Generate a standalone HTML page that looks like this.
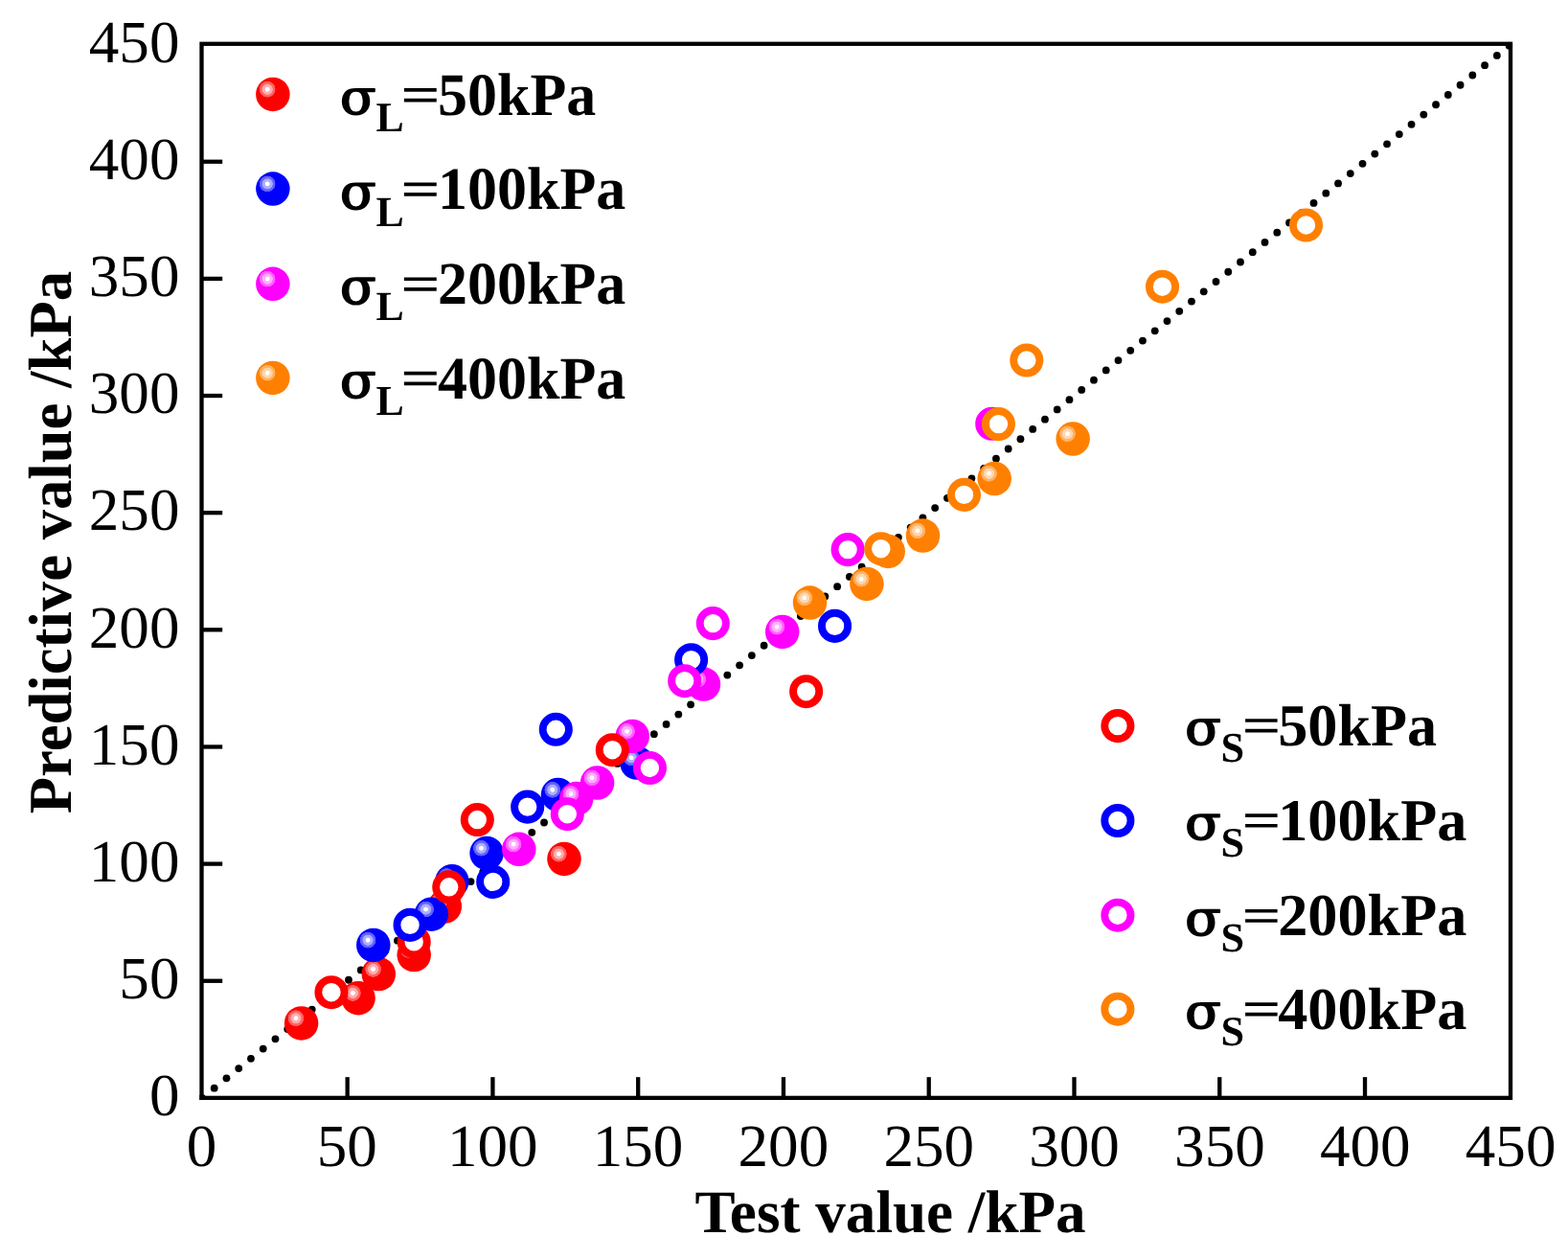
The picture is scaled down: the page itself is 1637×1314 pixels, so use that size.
<!DOCTYPE html>
<html lang="en"><head><meta charset="utf-8"><title>Predictive value vs test value</title>
<style>
html,body{margin:0;padding:0;background:#fff;}
body{width:1637px;height:1314px;}
svg{display:block;}
text{font-family:"Liberation Serif",serif;font-size:62px;fill:#000;text-rendering:geometricPrecision;}
.tick{font-weight:normal;}
.b{font-weight:bold;}
.sub{font-size:42px;font-weight:bold;}
.sig{font-family:"DejaVu Serif","Liberation Serif",serif;font-weight:normal;stroke:#000;stroke-width:2px;stroke-linejoin:round;}
</style></head><body>
<svg width="1637" height="1314" viewBox="0 0 1637 1314" role="img" aria-label="Predictive value versus test value scatter plot">
<defs>
<clipPath id="plot"><rect x="208.35" y="43.62" width="1370.8" height="1104.38"/></clipPath>
<radialGradient id="hl" gradientUnits="userSpaceOnUse" cx="-5.7" cy="-5.2" r="8.5">
<stop offset="0" stop-color="#fff" stop-opacity="1"/><stop offset="0.24" stop-color="#fff" stop-opacity="1"/><stop offset="0.32" stop-color="#fff" stop-opacity="0.7"/><stop offset="0.62" stop-color="#fff" stop-opacity="0.66"/><stop offset="0.68" stop-color="#fff" stop-opacity="0.42"/><stop offset="0.95" stop-color="#fff" stop-opacity="0.36"/><stop offset="1" stop-color="#fff" stop-opacity="0"/>
</radialGradient>
<g id="sr"><circle r="17.75" fill="#ff0000"/><circle r="17.75" fill="url(#hl)"/></g>
<circle id="rr" r="13.62" fill="#fff" stroke="#ff0000" stroke-width="7.85"/>
<g id="sb"><circle r="17.75" fill="#0000ff"/><circle r="17.75" fill="url(#hl)"/></g>
<circle id="rb" r="13.62" fill="#fff" stroke="#0000ff" stroke-width="7.85"/>
<g id="sm"><circle r="17.75" fill="#ff00ff"/><circle r="17.75" fill="url(#hl)"/></g>
<circle id="rm" r="13.62" fill="#fff" stroke="#ff00ff" stroke-width="7.85"/>
<g id="so"><circle r="17.75" fill="#ff8000"/><circle r="17.75" fill="url(#hl)"/></g>
<circle id="ro" r="13.62" fill="#fff" stroke="#ff8000" stroke-width="7.85"/>
</defs>
<rect width="1637" height="1314" fill="#fff"/>
<g fill="#000" clip-path="url(#plot)">
<circle cx="210.94" cy="1145.90" r="3.9"/>
<circle cx="223.69" cy="1135.64" r="3.9"/>
<circle cx="236.45" cy="1125.37" r="3.9"/>
<circle cx="249.20" cy="1115.11" r="3.9"/>
<circle cx="261.95" cy="1104.85" r="3.9"/>
<circle cx="274.71" cy="1094.58" r="3.9"/>
<circle cx="287.46" cy="1084.32" r="3.9"/>
<circle cx="300.22" cy="1074.05" r="3.9"/>
<circle cx="312.97" cy="1063.79" r="3.9"/>
<circle cx="325.72" cy="1053.53" r="3.9"/>
<circle cx="338.48" cy="1043.26" r="3.9"/>
<circle cx="351.23" cy="1033.00" r="3.9"/>
<circle cx="363.98" cy="1022.74" r="3.9"/>
<circle cx="376.74" cy="1012.47" r="3.9"/>
<circle cx="389.49" cy="1002.21" r="3.9"/>
<circle cx="402.25" cy="991.94" r="3.9"/>
<circle cx="415.00" cy="981.68" r="3.9"/>
<circle cx="427.75" cy="971.42" r="3.9"/>
<circle cx="440.51" cy="961.15" r="3.9"/>
<circle cx="453.26" cy="950.89" r="3.9"/>
<circle cx="466.01" cy="940.63" r="3.9"/>
<circle cx="478.77" cy="930.36" r="3.9"/>
<circle cx="491.52" cy="920.10" r="3.9"/>
<circle cx="504.28" cy="909.83" r="3.9"/>
<circle cx="517.03" cy="899.57" r="3.9"/>
<circle cx="529.78" cy="889.31" r="3.9"/>
<circle cx="542.54" cy="879.04" r="3.9"/>
<circle cx="555.29" cy="868.78" r="3.9"/>
<circle cx="568.04" cy="858.52" r="3.9"/>
<circle cx="580.80" cy="848.25" r="3.9"/>
<circle cx="593.55" cy="837.99" r="3.9"/>
<circle cx="606.30" cy="827.73" r="3.9"/>
<circle cx="619.06" cy="817.46" r="3.9"/>
<circle cx="631.81" cy="807.20" r="3.9"/>
<circle cx="644.57" cy="796.93" r="3.9"/>
<circle cx="657.32" cy="786.67" r="3.9"/>
<circle cx="670.07" cy="776.41" r="3.9"/>
<circle cx="682.83" cy="766.14" r="3.9"/>
<circle cx="695.58" cy="755.88" r="3.9"/>
<circle cx="708.33" cy="745.62" r="3.9"/>
<circle cx="721.09" cy="735.35" r="3.9"/>
<circle cx="733.84" cy="725.09" r="3.9"/>
<circle cx="746.60" cy="714.82" r="3.9"/>
<circle cx="759.35" cy="704.56" r="3.9"/>
<circle cx="772.10" cy="694.30" r="3.9"/>
<circle cx="784.86" cy="684.03" r="3.9"/>
<circle cx="797.61" cy="673.77" r="3.9"/>
<circle cx="810.36" cy="663.51" r="3.9"/>
<circle cx="823.12" cy="653.24" r="3.9"/>
<circle cx="835.87" cy="642.98" r="3.9"/>
<circle cx="848.62" cy="632.72" r="3.9"/>
<circle cx="861.38" cy="622.45" r="3.9"/>
<circle cx="874.13" cy="612.19" r="3.9"/>
<circle cx="886.89" cy="601.92" r="3.9"/>
<circle cx="899.64" cy="591.66" r="3.9"/>
<circle cx="912.39" cy="581.40" r="3.9"/>
<circle cx="925.15" cy="571.13" r="3.9"/>
<circle cx="937.90" cy="560.87" r="3.9"/>
<circle cx="950.65" cy="550.61" r="3.9"/>
<circle cx="963.41" cy="540.34" r="3.9"/>
<circle cx="976.16" cy="530.08" r="3.9"/>
<circle cx="988.92" cy="519.81" r="3.9"/>
<circle cx="1001.67" cy="509.55" r="3.9"/>
<circle cx="1014.42" cy="499.29" r="3.9"/>
<circle cx="1027.18" cy="489.02" r="3.9"/>
<circle cx="1039.93" cy="478.76" r="3.9"/>
<circle cx="1052.68" cy="468.50" r="3.9"/>
<circle cx="1065.44" cy="458.23" r="3.9"/>
<circle cx="1078.19" cy="447.97" r="3.9"/>
<circle cx="1090.95" cy="437.70" r="3.9"/>
<circle cx="1103.70" cy="427.44" r="3.9"/>
<circle cx="1116.45" cy="417.18" r="3.9"/>
<circle cx="1129.21" cy="406.91" r="3.9"/>
<circle cx="1141.96" cy="396.65" r="3.9"/>
<circle cx="1154.71" cy="386.39" r="3.9"/>
<circle cx="1167.47" cy="376.12" r="3.9"/>
<circle cx="1180.22" cy="365.86" r="3.9"/>
<circle cx="1192.97" cy="355.60" r="3.9"/>
<circle cx="1205.73" cy="345.33" r="3.9"/>
<circle cx="1218.48" cy="335.07" r="3.9"/>
<circle cx="1231.24" cy="324.80" r="3.9"/>
<circle cx="1243.99" cy="314.54" r="3.9"/>
<circle cx="1256.74" cy="304.28" r="3.9"/>
<circle cx="1269.50" cy="294.01" r="3.9"/>
<circle cx="1282.25" cy="283.75" r="3.9"/>
<circle cx="1295.00" cy="273.49" r="3.9"/>
<circle cx="1307.76" cy="263.22" r="3.9"/>
<circle cx="1320.51" cy="252.96" r="3.9"/>
<circle cx="1333.27" cy="242.69" r="3.9"/>
<circle cx="1346.02" cy="232.43" r="3.9"/>
<circle cx="1358.77" cy="222.17" r="3.9"/>
<circle cx="1371.53" cy="211.90" r="3.9"/>
<circle cx="1384.28" cy="201.64" r="3.9"/>
<circle cx="1397.03" cy="191.38" r="3.9"/>
<circle cx="1409.79" cy="181.11" r="3.9"/>
<circle cx="1422.54" cy="170.85" r="3.9"/>
<circle cx="1435.30" cy="160.58" r="3.9"/>
<circle cx="1448.05" cy="150.32" r="3.9"/>
<circle cx="1460.80" cy="140.06" r="3.9"/>
<circle cx="1473.56" cy="129.79" r="3.9"/>
<circle cx="1486.31" cy="119.53" r="3.9"/>
<circle cx="1499.06" cy="109.27" r="3.9"/>
<circle cx="1511.82" cy="99.00" r="3.9"/>
<circle cx="1524.57" cy="88.74" r="3.9"/>
<circle cx="1537.32" cy="78.48" r="3.9"/>
<circle cx="1550.08" cy="68.21" r="3.9"/>
<circle cx="1562.83" cy="57.95" r="3.9"/>
<circle cx="1575.59" cy="47.68" r="3.9"/>
</g>
<use href="#sr" x="314.60" y="1067.90"/>
<use href="#sr" x="374.05" y="1041.65"/>
<use href="#sr" x="395.30" y="1016.60"/>
<use href="#sr" x="432.20" y="996.60"/>
<use href="#sr" x="464.35" y="946.00"/>
<use href="#sr" x="589.00" y="896.40"/>
<use href="#sb" x="389.80" y="986.40"/>
<use href="#sb" x="450.30" y="954.20"/>
<use href="#sb" x="471.90" y="919.70"/>
<use href="#sb" x="508.10" y="890.40"/>
<use href="#sb" x="582.50" y="829.50"/>
<use href="#sb" x="664.90" y="796.10"/>
<use href="#sm" x="541.80" y="886.30"/>
<use href="#sm" x="601.70" y="833.60"/>
<use href="#sm" x="623.60" y="817.00"/>
<use href="#sm" x="660.20" y="768.40"/>
<use href="#sm" x="734.50" y="714.10"/>
<use href="#sm" x="816.70" y="659.40"/>
<use href="#so" x="845.50" y="629.10"/>
<use href="#so" x="904.90" y="609.40"/>
<use href="#so" x="927.20" y="575.40"/>
<use href="#so" x="963.50" y="559.10"/>
<use href="#so" x="1038.20" y="499.50"/>
<use href="#so" x="1120.15" y="458.00"/>
<use href="#rr" x="345.95" y="1035.70"/>
<use href="#rr" x="432.20" y="982.90"/>
<use href="#rr" x="468.75" y="925.80"/>
<use href="#rr" x="498.30" y="855.55"/>
<use href="#rr" x="639.30" y="782.70"/>
<use href="#rr" x="841.65" y="721.70"/>
<use href="#rb" x="428.05" y="965.40"/>
<use href="#rb" x="514.70" y="920.40"/>
<use href="#rb" x="550.70" y="842.10"/>
<use href="#rb" x="580.30" y="761.30"/>
<use href="#rb" x="721.60" y="688.70"/>
<use href="#rb" x="871.55" y="653.40"/>
<use href="#rm" x="592.30" y="849.70"/>
<use href="#rm" x="678.40" y="801.50"/>
<use href="#rm" x="714.70" y="710.70"/>
<use href="#rm" x="744.30" y="650.60"/>
<use href="#rm" x="885.10" y="573.60"/>
<use href="#rm" x="1035.70" y="442.30"/>
<use href="#ro" x="919.80" y="572.70"/>
<use href="#ro" x="1006.50" y="516.40"/>
<use href="#ro" x="1042.45" y="442.60"/>
<use href="#ro" x="1071.80" y="376.00"/>
<use href="#ro" x="1213.50" y="299.20"/>
<use href="#ro" x="1363.50" y="235.00"/>
<g stroke="#000" stroke-width="4.3" fill="none" stroke-linecap="butt">
<rect x="210.5" y="45.77" width="1366.5" height="1100.08"/>
<line x1="362.66" y1="1145.85" x2="362.66" y2="1124.15"/>
<line x1="210.5" y1="1023.76" x2="232.2" y2="1023.76"/>
<line x1="514.43" y1="1145.85" x2="514.43" y2="1124.15"/>
<line x1="210.5" y1="901.61" x2="232.2" y2="901.61"/>
<line x1="666.19" y1="1145.85" x2="666.19" y2="1124.15"/>
<line x1="210.5" y1="779.47" x2="232.2" y2="779.47"/>
<line x1="817.96" y1="1145.85" x2="817.96" y2="1124.15"/>
<line x1="210.5" y1="657.32" x2="232.2" y2="657.32"/>
<line x1="969.72" y1="1145.85" x2="969.72" y2="1124.15"/>
<line x1="210.5" y1="535.18" x2="232.2" y2="535.18"/>
<line x1="1121.49" y1="1145.85" x2="1121.49" y2="1124.15"/>
<line x1="210.5" y1="413.03" x2="232.2" y2="413.03"/>
<line x1="1273.26" y1="1145.85" x2="1273.26" y2="1124.15"/>
<line x1="210.5" y1="290.89" x2="232.2" y2="290.89"/>
<line x1="1425.02" y1="1145.85" x2="1425.02" y2="1124.15"/>
<line x1="210.5" y1="168.74" x2="232.2" y2="168.74"/>
</g>
<text class="tick" text-anchor="middle" transform="translate(210.50 1217.43) scale(1.0175 1.01)">0</text>
<text class="tick" text-anchor="middle" transform="translate(362.35 1217.43) scale(1.0175 1.01)">50</text>
<text class="tick" text-anchor="middle" transform="translate(514.19 1217.43) scale(1.0175 1.01)">100</text>
<text class="tick" text-anchor="middle" transform="translate(666.04 1217.43) scale(1.0175 1.01)">150</text>
<text class="tick" text-anchor="middle" transform="translate(817.88 1217.43) scale(1.0175 1.01)">200</text>
<text class="tick" text-anchor="middle" transform="translate(969.73 1217.43) scale(1.0175 1.01)">250</text>
<text class="tick" text-anchor="middle" transform="translate(1121.57 1217.43) scale(1.0175 1.01)">300</text>
<text class="tick" text-anchor="middle" transform="translate(1273.41 1217.43) scale(1.0175 1.01)">350</text>
<text class="tick" text-anchor="middle" transform="translate(1425.26 1217.43) scale(1.0175 1.01)">400</text>
<text class="tick" text-anchor="middle" transform="translate(1577.11 1217.43) scale(1.0175 1.01)">450</text>
<text class="tick" text-anchor="end" transform="translate(187.45 1164.40) scale(1.0175 1.01)">0</text>
<text class="tick" text-anchor="end" transform="translate(187.45 1042.22) scale(1.0175 1.01)">50</text>
<text class="tick" text-anchor="end" transform="translate(187.45 920.03) scale(1.0175 1.01)">100</text>
<text class="tick" text-anchor="end" transform="translate(187.45 797.85) scale(1.0175 1.01)">150</text>
<text class="tick" text-anchor="end" transform="translate(187.45 675.66) scale(1.0175 1.01)">200</text>
<text class="tick" text-anchor="end" transform="translate(187.45 553.48) scale(1.0175 1.01)">250</text>
<text class="tick" text-anchor="end" transform="translate(187.45 431.29) scale(1.0175 1.01)">300</text>
<text class="tick" text-anchor="end" transform="translate(187.45 309.11) scale(1.0175 1.01)">350</text>
<text class="tick" text-anchor="end" transform="translate(187.45 186.92) scale(1.0175 1.01)">400</text>
<text class="tick" text-anchor="end" transform="translate(187.45 64.73) scale(1.0175 1.01)">450</text>
<text class="b" text-anchor="middle" transform="translate(929.6 1285.8) scale(1.0183 1.018)">Test value /kPa</text>
<text class="b" text-anchor="middle" transform="translate(73.7 566.15) rotate(-90) scale(1.0109 1.028)">Predictive value /kPa</text>
<g>
<use href="#sr" x="284.87" y="98.41"/>
<text class="sig" transform="translate(354.92 119) scale(0.8886 0.8170)">σ</text>
<text class="sub" transform="translate(392.62 137) scale(1.0431 1.0447)">L</text>
<text class="b" transform="translate(418.27 117) scale(1.1759 0.8638)">=</text>
<text class="b" transform="translate(456.90 120) scale(1 1.017)">50kPa</text>
</g>
<g>
<use href="#sb" x="284.87" y="197.07"/>
<text class="sig" transform="translate(354.92 218) scale(0.8886 0.8323)">σ</text>
<text class="sub" transform="translate(392.62 236) scale(1.0431 1.0644)">L</text>
<text class="b" transform="translate(418.27 215) scale(1.1759 0.8446)">=</text>
<text class="b" transform="translate(456.90 218) scale(1 1.017)">100kPa</text>
</g>
<g>
<use href="#sm" x="284.87" y="296.29"/>
<text class="sig" transform="translate(354.92 317) scale(0.8886 0.8357)">σ</text>
<text class="sub" transform="translate(392.62 334) scale(1.0431 1.0324)">L</text>
<text class="b" transform="translate(418.27 314) scale(1.1759 0.8496)">=</text>
<text class="b" transform="translate(456.90 317) scale(1 1.017)">200kPa</text>
</g>
<g>
<use href="#so" x="284.87" y="394.41"/>
<text class="sig" transform="translate(354.92 415) scale(0.8886 0.8241)">σ</text>
<text class="sub" transform="translate(392.62 433) scale(1.0431 1.0538)">L</text>
<text class="b" transform="translate(418.27 413) scale(1.1759 0.8742)">=</text>
<text class="b" transform="translate(456.90 416) scale(1 1.017)">400kPa</text>
</g>
<g>
<use href="#rr" x="1166.87" y="757.64"/>
<text class="sig" transform="translate(1237.17 777) scale(0.8873 0.8143)">σ</text>
<text class="sub" transform="translate(1274.40 795) scale(1.0551 1.0478)">S</text>
<text class="b" transform="translate(1296.51 775) scale(1.1634 0.8591)">=</text>
<text class="b" transform="translate(1334.20 778) scale(1.004 1.005)">50kPa</text>
</g>
<g>
<use href="#rb" x="1166.87" y="856.47"/>
<text class="sig" transform="translate(1237.17 876) scale(0.8873 0.8095)">σ</text>
<text class="sub" transform="translate(1274.40 894) scale(1.0551 1.0417)">S</text>
<text class="b" transform="translate(1296.51 874) scale(1.1634 0.8520)">=</text>
<text class="b" transform="translate(1334.20 877) scale(1.004 1.005)">100kPa</text>
</g>
<g>
<use href="#rm" x="1166.87" y="955.19"/>
<text class="sig" transform="translate(1237.17 976) scale(0.8873 0.8246)">σ</text>
<text class="sub" transform="translate(1274.40 993) scale(1.0551 1.0251)">S</text>
<text class="b" transform="translate(1296.51 973) scale(1.1634 0.8325)">=</text>
<text class="b" transform="translate(1334.20 976) scale(1.004 1.005)">200kPa</text>
</g>
<g>
<use href="#ro" x="1166.87" y="1053.17"/>
<text class="sig" transform="translate(1237.17 1073) scale(0.8873 0.8124)">σ</text>
<text class="sub" transform="translate(1274.40 1091) scale(1.0551 1.0453)">S</text>
<text class="b" transform="translate(1296.51 1071) scale(1.1634 0.8562)">=</text>
<text class="b" transform="translate(1334.20 1074) scale(1.004 1.005)">400kPa</text>
</g>
</svg>
</body></html>
